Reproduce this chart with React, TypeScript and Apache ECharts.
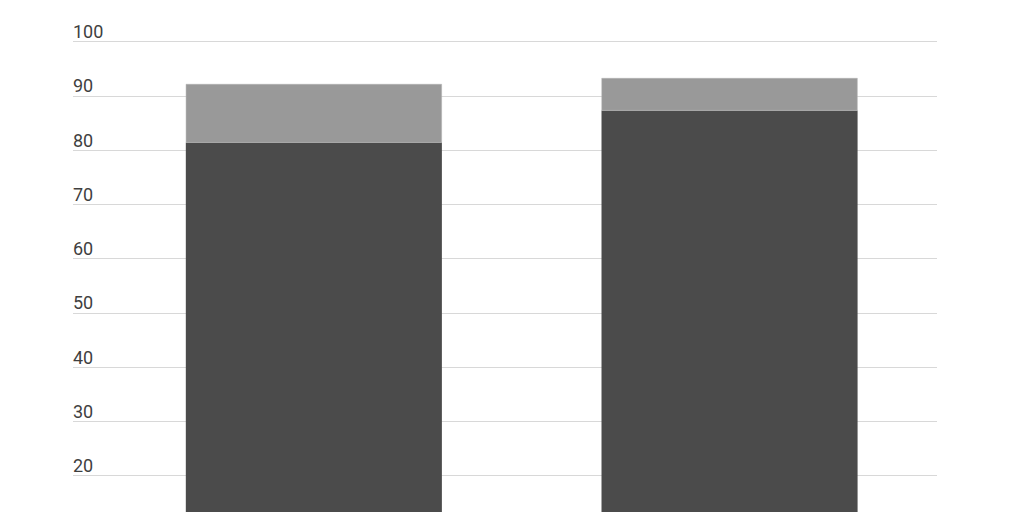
import React, { useEffect, useRef } from "react";
import * as echarts from "echarts";

const categories = ["A", "B"];
const darkValues = [81.4, 87.3];
const lightValues = [10.8, 6.0];
const yMin = 13.3;
const yMax = 100;

export default function App() {
  const ref = useRef<HTMLDivElement>(null);
  useEffect(() => {
    if (!ref.current) return;
    const chart = echarts.init(ref.current, undefined, { renderer: "svg" });
    const yCommon = {
      type: "value" as const,
      min: yMin,
      max: yMax,
      minInterval: 10,
      maxInterval: 10,
      axisLine: { show: false },
      axisTick: { show: false },
    };
    chart.setOption({
      animation: false,
      backgroundColor: "#ffffff",
      grid: [
        { left: 73, right: 87, top: 41.7, bottom: -1 },
        { left: 106, right: 86.6, top: 41.7, bottom: -1 },
      ],
      xAxis: [
        { type: "category", gridIndex: 0, data: categories, show: false },
        { type: "category", gridIndex: 1, data: categories, show: false },
      ],
      yAxis: [
        {
          ...yCommon,
          gridIndex: 0,
          splitLine: { show: true, lineStyle: { color: "#d8d8d8", width: 1 } },
          axisLabel: {
            inside: true,
            margin: 0,
            verticalAlign: "bottom",
            align: "left",
            showMinLabel: false,
            color: "#3f3f3f",
            fontFamily: "Roboto",
            fontSize: 18,
            padding: [0, 0, 1, 0],
          },
        },
        {
          ...yCommon,
          gridIndex: 1,
          show: false,
          splitLine: { show: false },
        },
      ],
      series: [
        {
          type: "bar",
          name: "Dark",
          xAxisIndex: 1,
          yAxisIndex: 1,
          stack: "total",
          barWidth: "61.6%",
          data: darkValues,
          itemStyle: { color: "#4b4b4b" },
        },
        {
          type: "bar",
          name: "Light",
          xAxisIndex: 1,
          yAxisIndex: 1,
          stack: "total",
          barWidth: "61.6%",
          data: lightValues,
          itemStyle: { color: "#999999", borderColor: "#b0b0b0", borderWidth: 0.5 },
        },
      ],
    });
    return () => chart.dispose();
  }, []);
  return (
    <div
      ref={ref}
      style={{ position: "fixed", top: 0, left: 0, width: 1024, height: 512 }}
    />
  );
}
